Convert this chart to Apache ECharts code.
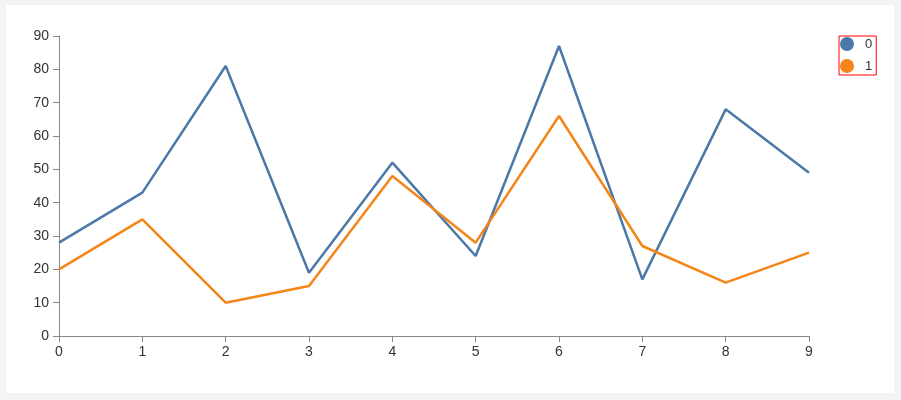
<!DOCTYPE html>
<html>
<head>
<meta charset="utf-8">
<script src="https://cdn.jsdelivr.net/npm/echarts@6/dist/echarts.min.js"></script>
<style>
  html, body { margin: 0; padding: 0; background: #f5f4f4; }
  #main { width: 901px; height: 400px; }
</style>
</head>
<body>
<div id="main"></div>
<script>
// data
var categories = ['0', '1', '2', '3', '4', '5', '6', '7', '8', '9'];
var series0 = [28, 43, 81, 19, 52, 24, 87, 17, 68, 49];
var series1 = [20, 35, 10, 15, 48, 28, 66, 27, 16, 25];
var seriesNames = ['0', '1'];

var chart = echarts.init(document.getElementById('main'));
var axisColor = '#888';
var font = '"Liberation Sans", Arial, sans-serif';

var option = {
  backgroundColor: '#f5f4f4',
  animation: false,
  graphic: [{
    type: 'rect',
    z: -10,
    shape: { x: 6, y: 5, width: 888, height: 388 },
    style: { fill: '#fff' },
    silent: true
  }],
  grid: { left: 59, right: 92, top: 36, bottom: 64 },
  legend: {
    data: seriesNames,
    orient: 'vertical',
    left: 839,
    top: 36,
    icon: 'circle',
    itemWidth: 14,
    itemHeight: 14,
    itemGap: 8,
    padding: [1, 4, 2, 1],
    borderColor: '#ff0000',
    borderWidth: 1,
    textStyle: { fontSize: 13, color: '#333', fontFamily: font, padding: [0, 0, 0, 6] }
  },
  xAxis: {
    type: 'category',
    data: categories,
    boundaryGap: false,
    axisLine: { lineStyle: { color: axisColor, width: 1 } },
    axisTick: { alignWithLabel: true, inside: false, length: 6, lineStyle: { color: axisColor } },
    axisLabel: { color: '#333', fontSize: 14, fontFamily: font, margin: 9 },
    splitLine: { show: false }
  },
  yAxis: {
    type: 'value',
    min: 0,
    max: 90,
    interval: 10,
    axisLine: { show: true, lineStyle: { color: axisColor, width: 1 } },
    axisTick: { show: true, inside: false, length: 6, lineStyle: { color: axisColor } },
    axisLabel: { color: '#333', fontSize: 14, fontFamily: font, margin: 10 },
    splitLine: { show: false }
  },
  series: [{
    name: seriesNames[0],
    type: 'line',
    data: series0,
    showSymbol: false,
    color: '#4c78a8',
    lineStyle: { width: 2.5, color: '#4c78a8' }
  }, {
    name: seriesNames[1],
    type: 'line',
    data: series1,
    showSymbol: false,
    color: '#f58518',
    lineStyle: { width: 2.5, color: '#f58518' }
  }]
};

chart.setOption(option);
</script>
</body>
</html>
